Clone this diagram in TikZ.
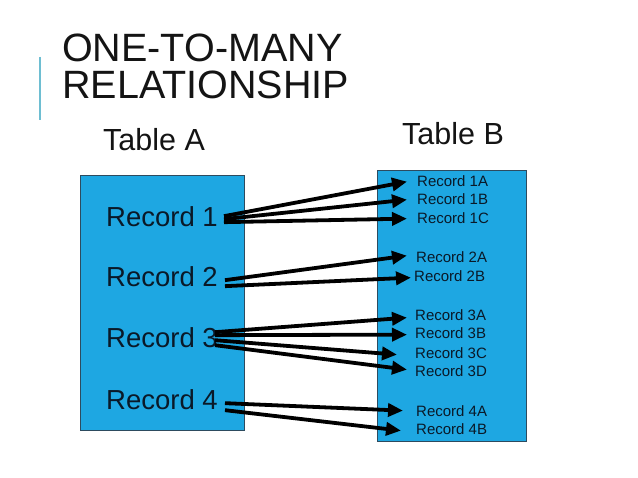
\documentclass[tikz,border=0pt]{standalone}
\usepackage{fontspec}
\setmainfont{Liberation Sans}
\usetikzlibrary{arrows.meta}
\definecolor{tblfill}{RGB}{30,167,226}
\definecolor{tbledge}{RGB}{45,75,95}
\definecolor{accent}{RGB}{110,190,210}
\definecolor{txt}{RGB}{20,20,20}
\definecolor{rectxt}{RGB}{10,25,40}
\tikzset{
  tblbox/.style={fill=tblfill,draw=tbledge,line width=0.8pt},
  titletxt/.style={inner sep=0pt,anchor=base west,text=txt,font=\fontsize{39.5}{39.5}\selectfont},
  headtxt/.style={inner sep=0pt,anchor=base west,text=txt,font=\fontsize{30.5}{30.5}\selectfont},
  reca/.style={inner sep=0pt,anchor=base west,text=rectxt,font=\fontsize{27.5}{27.5}\selectfont},
  recb/.style={inner sep=0pt,anchor=base west,text=rectxt,font=\fontsize{15}{15}\selectfont},
  arr/.style={line width=3.8pt,black,-{Triangle[length=15pt,width=13pt]}}
}
\begin{document}
\begin{tikzpicture}[x=1pt,y=-1pt]
\useasboundingbox (0,0) rectangle (638,478);
\fill[white] (0,0) rectangle (638,478);
% accent line
\draw[accent,line width=1.5pt] (40,57) -- (40,120);
% title
\node[titletxt] (t1) at (62,62) {ONE-TO-MANY};
\node[titletxt] (t2) at (62,99) {RELATIONSHIP};
\node[headtxt] (ha) at (103,151) {Table A};
\node[headtxt] (hb) at (402,145) {Table B};
% boxes
\path[tblbox] (80,175) rectangle (244,430);
\path[tblbox] (377,170) rectangle (526,441);
% table A records
\node[reca] (r1) at (106,227) {Record 1};
\node[reca] (r2) at (106,287) {Record 2};
\node[reca] (r3) at (106,348) {Record 3};
\node[reca] (r4) at (106,410) {Record 4};
% table B records
\node[recb] (b1a) at (417,187) {Record 1A};
\node[recb] (b1b) at (417,205) {Record 1B};
\node[recb] (b1c) at (417,224) {Record 1C};
\node[recb] (b2a) at (416,263) {Record 2A};
\node[recb] (b2b) at (414,282) {Record 2B};
\node[recb] (b3a) at (415,321) {Record 3A};
\node[recb] (b3b) at (415,339) {Record 3B};
\node[recb] (b3c) at (415,359) {Record 3C};
\node[recb] (b3d) at (415,377) {Record 3D};
\node[recb] (b4a) at (416,417) {Record 4A};
\node[recb] (b4b) at (416,435) {Record 4B};
% arrows
\draw[arr] ([xshift=6pt,yshift=1pt]r1.east) -- ([xshift=-10pt]b1a.west);
\draw[arr] ([xshift=6pt,yshift=-2pt]r1.east) -- ([xshift=-10pt]b1b.west);
\draw[arr] ([xshift=6pt,yshift=-5pt]r1.east) -- ([xshift=-10pt]b1c.west);
\draw[arr] ([xshift=7pt,yshift=-3pt]r2.east) -- ([xshift=-9pt,yshift=2pt]b2a.west);
\draw[arr] ([xshift=7pt,yshift=-9pt]r2.east) -- ([xshift=-3pt,yshift=-1pt]b2b.west);
\draw[arr] ([xshift=-3pt,yshift=6pt]r3.east) -- ([xshift=-8pt,yshift=-2pt]b3a.west);
\draw[arr] ([xshift=-3pt,yshift=3pt]r3.east) -- ([xshift=-8pt,yshift=-1pt]b3b.west);
\draw[arr] ([xshift=-3pt,yshift=-2pt]r3.east) -- ([xshift=-18pt,yshift=-1pt]b3c.west);
\draw[arr] ([xshift=-3pt,yshift=-7pt]r3.east) -- ([xshift=-8pt,yshift=2pt]b3d.west);
\draw[arr] ([xshift=7pt,yshift=-3pt]r4.east) -- ([xshift=-13pt,yshift=1pt]b4a.west);
\draw[arr] ([xshift=7pt,yshift=-10pt]r4.east) -- ([xshift=-15pt,yshift=-1pt]b4b.west);
\end{tikzpicture}
\end{document}
